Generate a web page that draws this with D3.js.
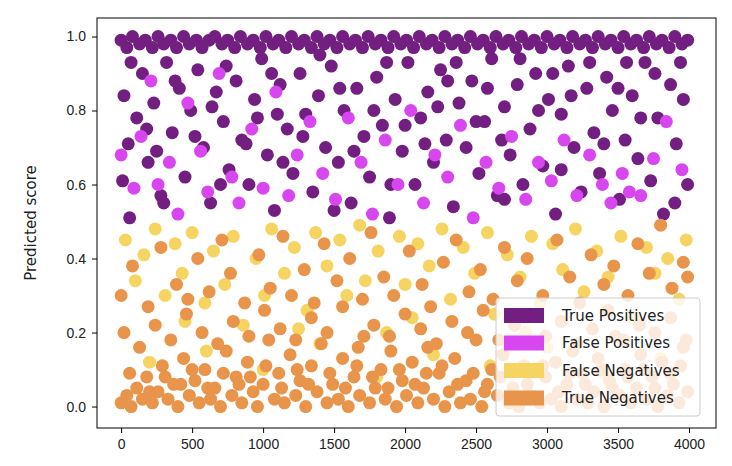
<!DOCTYPE html>
<html>
<head>
<meta charset="UTF-8">
<script src="https://d3js.org/d3.v7.min.js"></script>
<style>
body { margin: 0; background: #fff; font-family: "DejaVu Sans", sans-serif; }
.tick text { font-size: 14px; fill: #222; }
</style>
</head>
<body>
<div id="chart"></div>
<script>
// points as [index, score]
const truePositives = [
[0,0.99],[40,0.97],[80,1.0],[130,0.98],[170,0.99],[220,0.97],[260,1.0],[300,0.98],[350,0.99],[390,0.97],[440,1.0],[480,0.98],[530,0.99],[570,0.97],[620,0.99],[660,1.0],[710,0.98],[750,0.99],[800,0.97],[840,1.0],[890,0.98],[930,0.99],[980,0.97],[1020,1.0],[1070,0.98],[1110,0.99],[1160,0.97],[1200,1.0],[1250,0.98],[1290,0.99],[1340,0.97],[1380,1.0],[1430,0.98],[1470,0.99],[1520,0.97],[1560,1.0],[1610,0.98],[1650,0.99],[1700,0.97],[1740,1.0],[1790,0.98],[1830,0.99],[1880,0.97],[1920,1.0],[1970,0.98],[2010,0.99],[2060,0.97],[2100,1.0],[2150,0.98],[2190,0.99],[2240,0.97],[2280,1.0],[2330,0.98],[2370,0.99],[2420,0.97],[2460,1.0],[2510,0.98],[2550,0.99],[2600,0.97],[2640,1.0],[2690,0.98],[2730,0.99],[2780,0.97],[2820,1.0],[2870,0.98],[2910,0.99],[2960,0.97],[3000,1.0],[3050,0.98],[3090,0.99],[3140,0.97],[3180,1.0],[3230,0.98],[3270,0.99],[3320,0.97],[3360,1.0],[3410,0.98],[3450,0.99],[3500,0.97],[3540,1.0],[3590,0.98],[3630,0.99],[3680,0.97],[3720,1.0],[3770,0.98],[3810,0.99],[3860,0.97],[3900,1.0],[3950,0.98],[3990,0.99],
[20,0.84],[50,0.71],[10,0.61],[60,0.51],[110,0.78],[150,0.9],[190,0.66],[230,0.82],[280,0.57],[320,0.93],[360,0.74],[410,0.86],[450,0.62],[490,0.8],[540,0.91],[580,0.7],[630,0.55],[670,0.85],[720,0.77],[760,0.64],[810,0.88],[850,0.72],[900,0.6],[940,0.83],[990,0.94],[1030,0.68],[1080,0.53],[1120,0.87],[1170,0.75],[1210,0.63],[1260,0.9],[1300,0.79],[1350,0.58],[1390,0.84],[1440,0.7],[1480,0.92],[1530,0.66],[1570,0.8],[1620,0.55],[1660,0.86],[1710,0.73],[1750,0.62],[1800,0.89],[1840,0.76],[1890,0.51],[1930,0.83],[1980,0.69],[2020,0.93],[2070,0.6],[2110,0.78],[2160,0.85],[2200,0.66],[2250,0.91],[2290,0.72],[2340,0.54],[2380,0.82],[2430,0.7],[2470,0.88],[2520,0.63],[2560,0.77],[2610,0.94],[2650,0.57],[2700,0.81],[2740,0.68],[2790,0.87],[2830,0.6],[2880,0.75],[2920,0.9],[2970,0.65],[3010,0.83],[3060,0.52],[3100,0.79],[3150,0.92],[3190,0.7],[3240,0.58],[3280,0.86],[3330,0.74],[3370,0.63],[3420,0.89],[3460,0.8],[3510,0.56],[3550,0.72],[3600,0.84],[3640,0.67],[3690,0.93],[3730,0.61],[3780,0.78],[3820,0.52],[3870,0.87],[3910,0.71],[3960,0.83],[3990,0.6],
[300,0.55],[700,0.6],[1100,0.79],[1500,0.53],[1900,0.6],[2300,0.88],[2700,0.56],[3100,0.64],[3500,0.86],[3900,0.55],
[70,0.93],[180,0.75],[250,0.69],[380,0.88],[520,0.73],[640,0.81],[740,0.92],[880,0.71],[960,0.78],[1060,0.9],[1140,0.66],[1280,0.73],[1400,0.95],[1540,0.86],[1640,0.69],[1780,0.8],[1870,0.93],[2000,0.76],[2140,0.71],[2230,0.81],[2360,0.93],[2500,0.77],[2580,0.86],[2680,0.72],[2810,0.94],[2940,0.8],[3040,0.9],[3170,0.84],[3300,0.93],[3400,0.71],[3560,0.93],[3660,0.78],[3760,0.9],[3940,0.93]
];
const falsePositives = [
[0,0.68],[90,0.59],[140,0.73],[210,0.88],[260,0.6],[340,0.66],[400,0.52],[470,0.82],[560,0.69],[610,0.58],[690,0.9],[780,0.62],[830,0.55],[920,0.75],[1000,0.59],[1090,0.85],[1180,0.57],[1240,0.68],[1330,0.77],[1420,0.63],[1510,0.56],[1600,0.78],[1690,0.66],[1770,0.52],[1860,0.72],[1950,0.6],[2040,0.8],[2130,0.55],[2210,0.68],[2300,0.62],[2390,0.76],[2480,0.51],[2570,0.66],[2660,0.59],[2750,0.73],[2850,0.56],[2940,0.66],[3030,0.61],[3120,0.72],[3210,0.57],[3300,0.68],[3390,0.6],[3450,0.55],[3530,0.63],[3580,0.58],[3660,0.57],[3750,0.67],[3840,0.77],[3950,0.64]
];
const falseNegatives = [
[30,0.45],[100,0.34],[160,0.41],[240,0.48],[310,0.3],[380,0.44],[430,0.36],[500,0.47],[590,0.28],[650,0.42],[730,0.33],[790,0.46],[860,0.22],[950,0.4],[1010,0.3],[1060,0.48],[1150,0.36],[1220,0.43],[1310,0.26],[1370,0.47],[1450,0.38],[1540,0.45],[1590,0.3],[1680,0.49],[1720,0.34],[1810,0.42],[1870,0.2],[1960,0.46],[2000,0.33],[2090,0.44],[2170,0.38],[2260,0.48],[2320,0.29],[2410,0.43],[2490,0.36],[2580,0.47],[2630,0.25],[2720,0.41],[2810,0.35],[2890,0.46],[2950,0.28],[3040,0.44],[3110,0.37],[3200,0.48],[3260,0.31],[3350,0.42],[3430,0.35],[3520,0.46],[3610,0.24],[3700,0.43],[3760,0.36],[3850,0.4],[3930,0.29],[3980,0.45],
[200,0.12],[600,0.15],[1000,0.1],[1400,0.17],[1800,0.08],[2200,0.14],[2600,0.11],[3000,0.16],[3400,0.09],[3800,0.13],[450,0.23],[1250,0.21],[2050,0.24],[2850,0.2]
];
const trueNegatives = [
[0,0.01],[40,0.03],[70,0.0],[110,0.05],[150,0.02],[180,0.08],[220,0.01],[260,0.04],[290,0.11],[330,0.02],[370,0.06],[400,0.0],[440,0.13],[480,0.03],[520,0.07],[550,0.01],[590,0.1],[630,0.02],[660,0.05],[700,0.0],[740,0.15],[780,0.03],[810,0.08],[850,0.01],[890,0.12],[930,0.04],[960,0.0],[1000,0.06],[1040,0.18],[1080,0.02],[1110,0.09],[1150,0.01],[1190,0.14],[1230,0.03],[1260,0.07],[1300,0.0],[1340,0.11],[1380,0.04],[1410,0.17],[1450,0.01],[1490,0.06],[1530,0.02],[1560,0.13],[1600,0.0],[1640,0.08],[1680,0.03],[1710,0.19],[1750,0.01],[1790,0.05],[1830,0.1],[1860,0.02],[1900,0.15],[1940,0.0],[1980,0.07],[2010,0.03],[2050,0.12],[2090,0.01],[2130,0.05],[2160,0.16],[2200,0.02],[2240,0.09],[2280,0.0],[2310,0.04],[2350,0.13],[2390,0.01],[2430,0.07],[2460,0.02],[2500,0.18],[2540,0.0],[2580,0.06],[2610,0.1],[2650,0.03],[2690,0.14],[2730,0.01],[2760,0.05],[2800,0.0],[2840,0.11],[2880,0.03],[2910,0.17],[2950,0.01],[2990,0.08],[3030,0.02],[3060,0.12],[3100,0.0],[3140,0.06],[3180,0.15],[3210,0.02],[3250,0.09],[3290,0.01],[3330,0.04],[3360,0.13],[3400,0.0],[3440,0.07],[3480,0.19],[3510,0.03],[3550,0.1],[3590,0.01],[3630,0.05],[3660,0.14],[3700,0.02],[3740,0.08],[3780,0.0],[3810,0.12],[3850,0.03],[3890,0.06],[3930,0.01],[3960,0.16],[3990,0.04],
[20,0.2],[130,0.16],[240,0.22],[350,0.18],[460,0.25],[570,0.2],[680,0.17],[790,0.23],[900,0.19],[1010,0.26],[1120,0.21],[1230,0.18],[1340,0.24],[1450,0.2],[1560,0.27],[1670,0.16],[1780,0.22],[1890,0.19],[2000,0.25],[2110,0.21],[2220,0.17],[2330,0.23],[2440,0.2],[2550,0.26],[2660,0.18],[2770,0.22],[2880,0.25],[2990,0.19],[3100,0.23],[3210,0.17],[3320,0.21],[3430,0.26],[3540,0.18],[3650,0.22],[3760,0.2],[3870,0.24],[3980,0.18],
[0,0.3],[80,0.38],[190,0.27],[280,0.43],[390,0.33],[470,0.29],[540,0.4],[620,0.31],[710,0.45],[770,0.36],[870,0.28],[970,0.41],[1050,0.32],[1140,0.46],[1200,0.3],[1290,0.37],[1360,0.28],[1430,0.44],[1520,0.34],[1610,0.4],[1700,0.29],[1760,0.47],[1850,0.35],[1920,0.3],[2030,0.42],[2120,0.33],[2180,0.27],[2270,0.39],[2360,0.45],[2450,0.31],[2530,0.37],[2620,0.29],[2700,0.43],[2790,0.34],[2860,0.4],[2970,0.3],[3070,0.45],[3160,0.35],[3230,0.28],[3310,0.41],[3400,0.33],[3470,0.38],[3570,0.3],[3640,0.44],[3720,0.36],[3800,0.49],[3880,0.32],[3960,0.39],[3990,0.35],
[60,0.09],[200,0.04],[310,0.08],[420,0.06],[500,0.1],[610,0.05],[720,0.09],[830,0.06],[910,0.08],[1020,0.11],[1130,0.05],[1240,0.1],[1320,0.06],[1470,0.09],[1580,0.05],[1660,0.11],[1770,0.08],[1880,0.05],[1960,0.1],[2070,0.06],[2150,0.09],[2260,0.11],[2370,0.06],[2480,0.09],[2560,0.04],[2670,0.08],[2780,0.1],[2860,0.06],[2970,0.11],[3080,0.04],[3160,0.09],[3270,0.06],[3380,0.1],[3460,0.05],[3570,0.08],[3680,0.1],[3760,0.05],[3870,0.09],[3940,0.11]
];
const series = [
  { name: "True Positives", color: "#721f81", data: truePositives },
  { name: "False Positives", color: "#d846f0", data: falsePositives },
  { name: "False Negatives", color: "#f5d462", data: falseNegatives },
  { name: "True Negatives", color: "#e8944a", data: trueNegatives }
];
const xTicks = [0, 500, 1000, 1500, 2000, 2500, 3000, 3500, 4000];
const yTicks = [0.0, 0.2, 0.4, 0.6, 0.8, 1.0];

const W = 732, H = 466;
const margin = { top: 18, right: 16, bottom: 38, left: 97 };
const w = W - margin.left - margin.right, h = H - margin.top - margin.bottom;

const svg = d3.select("#chart").append("svg").attr("width", W).attr("height", H);
const g = svg.append("g").attr("transform", `translate(${margin.left},${margin.top})`);

const x = d3.scaleLinear().domain([-170, 4190]).range([0, w]);
const y = d3.scaleLinear().domain([-0.058, 1.05]).range([h, 0]);

g.append("clipPath").attr("id", "clip").append("rect").attr("width", w).attr("height", h);
const pts = g.append("g").attr("clip-path", "url(#clip)");
series.forEach(s => {
  pts.selectAll(null).data(s.data).enter().append("circle")
    .attr("cx", d => x(d[0])).attr("cy", d => y(d[1])).attr("r", 6.5)
    .attr("fill", s.color);
});

g.append("g").attr("transform", `translate(0,${h})`)
  .call(d3.axisBottom(x).tickValues(xTicks).tickFormat(d3.format("d")).tickSize(5).tickPadding(6));
g.append("g")
  .call(d3.axisLeft(y).tickValues(yTicks).tickFormat(d3.format(".1f")).tickSize(5).tickPadding(6));
g.selectAll(".domain").remove();
g.append("rect").attr("width", w).attr("height", h).attr("fill", "none").attr("stroke", "#000").attr("stroke-width", 1);

svg.append("text").attr("transform", `translate(36,${margin.top + h / 2}) rotate(-90)`)
  .attr("text-anchor", "middle").style("font-size", "15px").attr("fill", "#222").text("Predicted score");

// legend
const lg = svg.append("g").attr("transform", "translate(496,298)");
lg.append("rect").attr("width", 204).attr("height", 118).attr("rx", 3)
  .attr("fill", "rgba(255,255,255,0.8)").attr("stroke", "#ccc");
series.forEach((s, i) => {
  const row = lg.append("g").attr("transform", `translate(8,${17 + i * 27.5})`);
  row.append("rect").attr("y", -7).attr("width", 40).attr("height", 15).attr("fill", s.color);
  row.append("text").attr("x", 58).attr("y", 5.5).style("font-size", "15px").attr("fill", "#222").text(s.name);
});
</script>
</body>
</html>
